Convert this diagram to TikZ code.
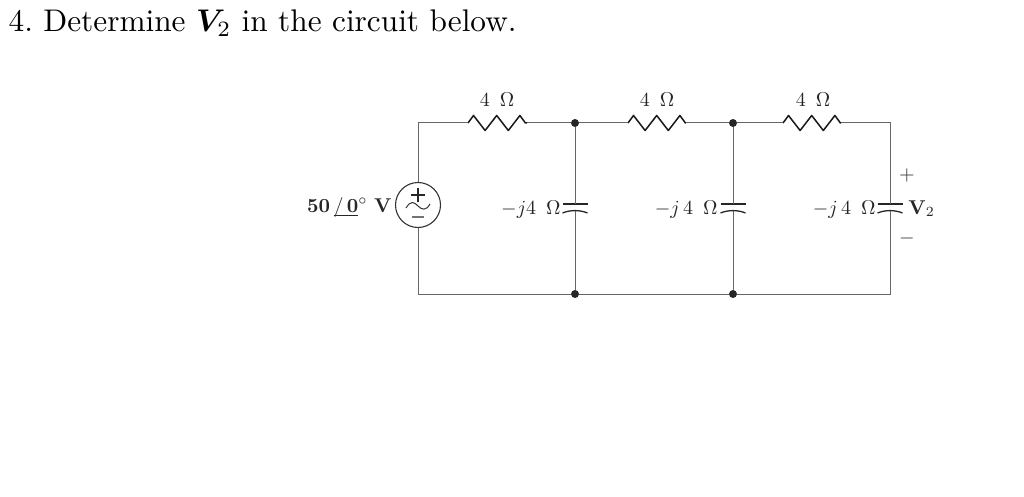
\documentclass[tikz,border=0pt]{standalone}
\usepackage{amsmath}
\usepackage{bm}
\usetikzlibrary{calc}
\tikzset{
  wire/.style={draw=black!60,line width=1pt},
  elem/.style={draw=black!90,line width=1.5pt,line join=round},
  plate/.style={draw=black!85,line width=1.3pt},
  junction/.style={circle,fill=black!85,draw=none,minimum size=8pt,inner sep=0pt},
  lab/.style={inner sep=0pt,scale=2,text=black!85},
  pm/.style={inner sep=0pt,scale=2,text=black!80}
}
\newcommand{\myres}[2]{%
  \draw[elem] (#1) -- ++(5.5,-7.5) -- ++(11.6,15) -- ++(11.6,-15) -- ++(11.6,15) -- ++(11.6,-15) -- ++(5.5,7.5) -- (#2);}
\newcommand{\mycap}[3]{%
  \draw[plate] ($(#1)+(-#3,0)$) -- ($(#1)+(#3,0)$);
  \draw[plate] ($(#2)+(-#3,2)$) .. controls ($(#2)+(-#3*0.4,-1.2)$) and ($(#2)+(#3*0.4,-1.2)$) .. ($(#2)+(#3,2)$);}
\begin{document}
\begin{tikzpicture}[x=1pt,y=-1pt]
\useasboundingbox (0,0) rectangle (1024,497);
\fill[white] (0,0) rectangle (1024,497);
% title
\node[anchor=base west,inner sep=0pt,scale=3.13] (title) at (8,32) {4.\ Determine $\bm{V}_{2}$ in the circuit below.};
% corners and junctions
\coordinate (tl) at (418,123);
\coordinate (bl) at (418,294);
\coordinate (tr) at (890,123);
\coordinate (br) at (890,294);
\node[junction] (n1) at (575,123) {};
\node[junction] (n2) at (733,123) {};
\node[junction] (m1) at (575,294) {};
\node[junction] (m2) at (733,294) {};
% source
\node[circle,draw=black!80,line width=1.1pt,minimum size=45pt,inner sep=0pt] (src) at (418,205) {};
\draw[black!85,line width=1.1pt] (411,195) -- (425,195) (418,188) -- (418,202);
\draw[black!80,line width=1pt] (406,208) .. controls (411,200) and (414,202) .. (418,206) .. controls (422,210) and (426,211) .. (430,204);
\draw[black!55,line width=1.2pt] (412,217) -- (424,217);
% resistor ends
\coordinate (r1a) at (468,123); \coordinate (r1b) at (527,123);
\coordinate (r2a) at (628,123); \coordinate (r2b) at (686,123);
\coordinate (r3a) at (783,123); \coordinate (r3b) at (841,123);
\myres{r1a}{r1b}
\myres{r2a}{r2b}
\myres{r3a}{r3b}
% capacitor plate centres
\coordinate (c1a) at (575,204); \coordinate (c1b) at (575,211);
\coordinate (c2a) at (733,204); \coordinate (c2b) at (733,211);
\coordinate (c3a) at (890,204); \coordinate (c3b) at (890,211);
\mycap{c1a}{c1b}{12.5}
\mycap{c2a}{c2b}{12.5}
\mycap{c3a}{c3b}{12.5}
% wires
\draw[wire] (src) -- (tl) -- (r1a);
\draw[wire] (r1b) -- (n1) -- (r2a);
\draw[wire] (r2b) -- (n2) -- (r3a);
\draw[wire] (r3b) -- (tr) -- (c3a);
\draw[wire] (src) -- (bl) -- (m1) -- (m2) -- (br) -- (c3b);
\draw[wire] (n1) -- (c1a) (c1b) -- (m1);
\draw[wire] (n2) -- (c2a) (c2b) -- (m2);
% labels
\node[lab] (l1) at (497,100) {4\,\ $\Omega$};
\node[lab] (l2) at (657,100) {4\,\ $\Omega$};
\node[lab] (l3) at (813,100) {4\,\ $\Omega$};
\node[lab,anchor=base east] (c1l) at (561,214) {$-j4$\,\ $\Omega$};
\node[lab,anchor=base east] (c2l) at (718,214) {$-j\,4$\,\ $\Omega$};
\node[lab,anchor=base east] (c3l) at (876,214) {$-j\,4$\,\ $\Omega$};
\node[lab,anchor=base west] (v2t) at (908,214) {\textbf{V}$_2$};
\node[pm] (plus) at (907,176) {$+$};
\node[pm] (minus) at (907,238) {$-$};
\node[lab,anchor=base east] (srcl) at (392,212) {\textbf{50}\,\underline{\smash{/}\,\textbf{0}}$^\circ$\ \textbf{V}};
\end{tikzpicture}
\end{document}
